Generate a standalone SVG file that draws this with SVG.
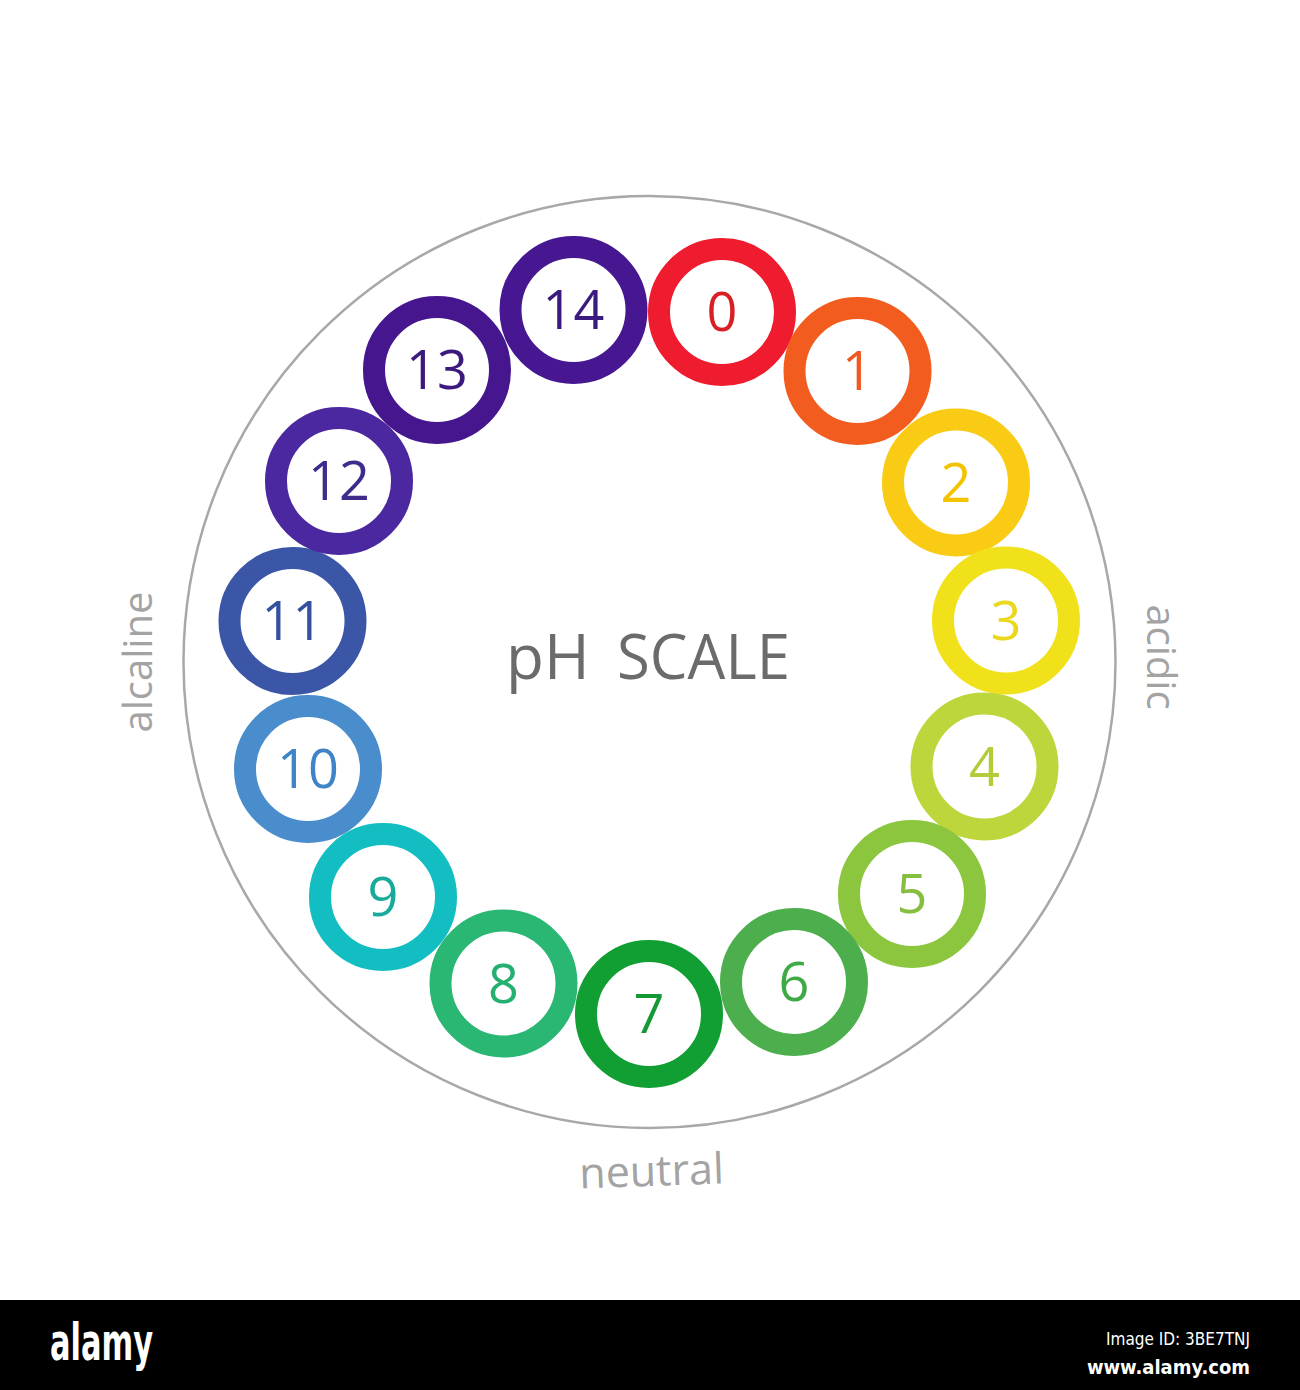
<svg xmlns="http://www.w3.org/2000/svg" width="1300" height="1390" viewBox="0 0 1300 1390">
<style>
.ring{fill:none;stroke-width:22}
.num{font-family:"Open Sans","Noto Sans",sans-serif;font-size:54px;text-anchor:middle}
.side{font-family:"Open Sans","Noto Sans",sans-serif;fill:#a3a3a3;text-anchor:middle}
.title{font-family:"Open Sans","Noto Sans",sans-serif;font-size:62px;fill:#6b6b6b}
</style>
<rect x="0" y="0" width="1300" height="1390" fill="#ffffff"/>
<g id="outer-circle">
<circle cx="649.5" cy="662" r="466" fill="none" stroke="#a8a8a8" stroke-width="2.5"/>
</g>
<g id="connectors"></g>
<g id="ph0"><circle class="ring" cx="722" cy="312" r="63" stroke="#ee1c2e"/><text class="num" x="722" y="331" fill="#d81f26">0</text></g>
<g id="ph1"><circle class="ring" cx="857.5" cy="371" r="63" stroke="#f25c1e"/><text class="num" x="857.5" y="390" fill="#f05a22">1</text></g>
<g id="ph2"><circle class="ring" cx="956" cy="482.5" r="63" stroke="#f9cb14"/><text class="num" x="956" y="501.5" fill="#f3c300">2</text></g>
<g id="ph3"><circle class="ring" cx="1006" cy="620.5" r="63" stroke="#f0e11b"/><text class="num" x="1006" y="639.5" fill="#ead81c">3</text></g>
<g id="ph4"><circle class="ring" cx="984.5" cy="766.5" r="63" stroke="#bdd63b"/><text class="num" x="984.5" y="785.5" fill="#b3cd3a">4</text></g>
<g id="ph5"><circle class="ring" cx="912" cy="894" r="63" stroke="#8cc63f"/><text class="num" x="912" y="913" fill="#86bf3f">5</text></g>
<g id="ph6"><circle class="ring" cx="794" cy="982" r="63" stroke="#4cae4c"/><text class="num" x="794" y="1001" fill="#3fa945">6</text></g>
<g id="ph7"><circle class="ring" cx="649" cy="1014" r="63" stroke="#119e33"/><text class="num" x="649" y="1033" fill="#139a36">7</text></g>
<g id="ph8"><circle class="ring" cx="503.5" cy="983.5" r="63" stroke="#2ab673"/><text class="num" x="503.5" y="1002.5" fill="#24b06f">8</text></g>
<g id="ph9"><circle class="ring" cx="383" cy="897" r="63" stroke="#12bec1"/><text class="num" x="383" y="916" fill="#18ab9c">9</text></g>
<g id="ph10"><circle class="ring" cx="308" cy="769" r="63" stroke="#4a8dcc"/><text class="num" x="308" y="788" fill="#3f84c6">10</text></g>
<g id="ph11"><circle class="ring" cx="292.5" cy="621" r="63" stroke="#3b56a7"/><text class="num" x="292.5" y="640" fill="#34509f">11</text></g>
<g id="ph12"><circle class="ring" cx="339" cy="481" r="63" stroke="#4b27a0"/><text class="num" x="339" y="500" fill="#3f2b8c">12</text></g>
<g id="ph13"><circle class="ring" cx="437" cy="370" r="63" stroke="#45168e"/><text class="num" x="437" y="389" fill="#3c1a7d">13</text></g>
<g id="ph14"><circle class="ring" cx="573.5" cy="310" r="63" stroke="#461790"/><text class="num" x="573.5" y="329" fill="#3b1a80">14</text></g>
<g id="title">
<text class="title" x="506" y="679">pH</text>
<text class="title" x="617" y="679" textLength="173" lengthAdjust="spacingAndGlyphs">SCALE</text>
</g>
<g id="labels">
<text class="side" font-size="40" transform="translate(1147,657) rotate(90)">acidic</text>
<text class="side" font-size="40" transform="translate(152,662) rotate(-90)">alcaline</text>
<text class="side" font-size="43" transform="translate(652,1186) rotate(-2)">neutral</text>
</g>
<g id="watermark-bar">
<rect x="0" y="1300" width="1300" height="90" fill="#000000"/>
<text x="50" y="1360" font-family="'DejaVu Sans Condensed','DejaVu Sans',sans-serif" font-weight="bold" font-size="52" fill="#ffffff" textLength="103" lengthAdjust="spacingAndGlyphs">alamy</text>
<text x="1250" y="1345" font-family="'DejaVu Sans Condensed','Liberation Sans Narrow',sans-serif" font-size="17" fill="#ffffff" text-anchor="end">Image ID: 3BE7TNJ</text>
<text x="1250" y="1374" font-family="'DejaVu Sans Condensed','Liberation Sans Narrow',sans-serif" font-weight="bold" font-size="20" fill="#ffffff" text-anchor="end">www.alamy.com</text>
</g>
</svg>
